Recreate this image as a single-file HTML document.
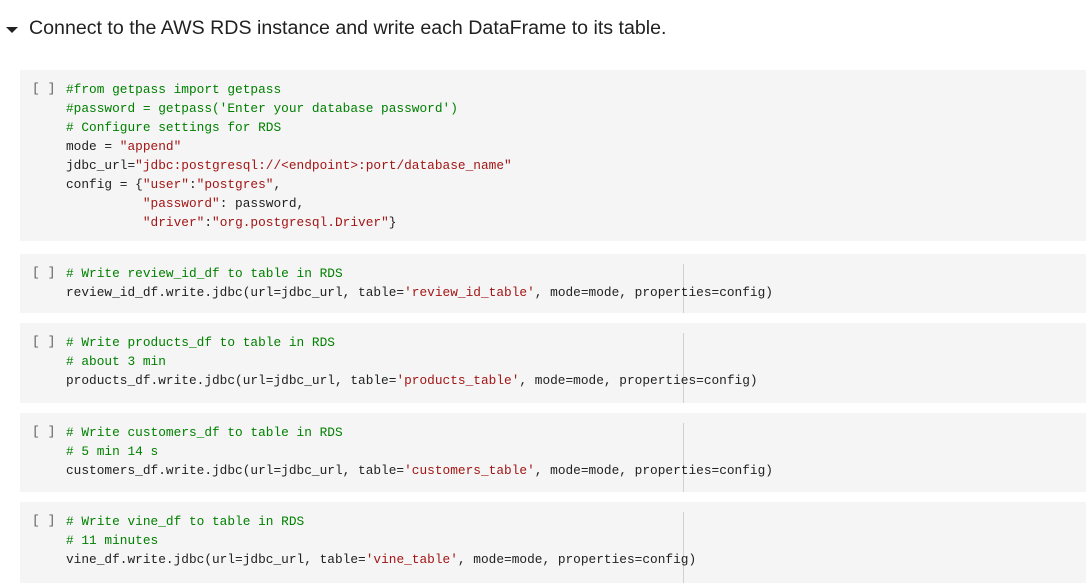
<!DOCTYPE html>
<html><head><style>
body{margin:0;width:1086px;height:583px;background:#fff;position:relative;overflow:hidden;font-family:"Liberation Sans",sans-serif}
.h{position:absolute;left:29px;top:17px;font-size:19.6px;color:#212121;white-space:nowrap}
.tri{position:absolute;left:6px;top:27px;width:0;height:0;border-left:6px solid transparent;border-right:6px solid transparent;border-top:6px solid #212121}
.cell{position:absolute;left:20px;width:1066px;background:#f5f5f5}
.br{position:absolute;left:12px;font:13px "Liberation Mono",monospace;color:#616161}
pre{position:absolute;left:46px;margin:0;font:12.8px/19px "Liberation Mono",monospace;color:#212121;letter-spacing:0.005px}
.c{color:#008000}.s{color:#a31515}
.rl{position:absolute;left:663px;width:1px;background:#d0d0d0}
</style></head><body>
<div class="tri"></div>
<div class="h">Connect to the AWS RDS instance and write each DataFrame to its table.</div>

<div class="cell" style="top:70px;height:171px">
<div class="br" style="top:11px">[ ]</div>
<pre style="top:10px"><span class="c">#from getpass import getpass</span>
<span class="c">#password = getpass('Enter your database password')</span>
<span class="c"># Configure settings for RDS</span>
mode = <span class="s">"append"</span>
jdbc_url=<span class="s">"jdbc:postgresql://&lt;endpoint&gt;:port/database_name"</span>
config = {<span class="s">"user"</span>:<span class="s">"postgres"</span>,
          <span class="s">"password"</span>: password,
          <span class="s">"driver"</span>:<span class="s">"org.postgresql.Driver"</span>}</pre>
</div>

<div class="cell" style="top:254px;height:59px">
<div class="rl" style="top:10px;height:49px"></div>
<div class="br" style="top:11px">[ ]</div>
<pre style="top:10px"><span class="c"># Write review_id_df to table in RDS</span>
review_id_df.write.jdbc(url=jdbc_url, table=<span class="s">'review_id_table'</span>, mode=mode, properties=config)</pre>
</div>

<div class="cell" style="top:323px;height:80px">
<div class="rl" style="top:10px;height:70px"></div>
<div class="br" style="top:11px">[ ]</div>
<pre style="top:10px"><span class="c"># Write products_df to table in RDS</span>
<span class="c"># about 3 min</span>
products_df.write.jdbc(url=jdbc_url, table=<span class="s">'products_table'</span>, mode=mode, properties=config)</pre>
</div>

<div class="cell" style="top:413px;height:79px">
<div class="rl" style="top:10px;height:69px"></div>
<div class="br" style="top:11px">[ ]</div>
<pre style="top:10px"><span class="c"># Write customers_df to table in RDS</span>
<span class="c"># 5 min 14 s</span>
customers_df.write.jdbc(url=jdbc_url, table=<span class="s">'customers_table'</span>, mode=mode, properties=config)</pre>
</div>

<div class="cell" style="top:502px;height:81px">
<div class="rl" style="top:10px;height:71px"></div>
<div class="br" style="top:11px">[ ]</div>
<pre style="top:10px"><span class="c"># Write vine_df to table in RDS</span>
<span class="c"># 11 minutes</span>
vine_df.write.jdbc(url=jdbc_url, table=<span class="s">'vine_table'</span>, mode=mode, properties=config)</pre>
</div>
</body></html>
